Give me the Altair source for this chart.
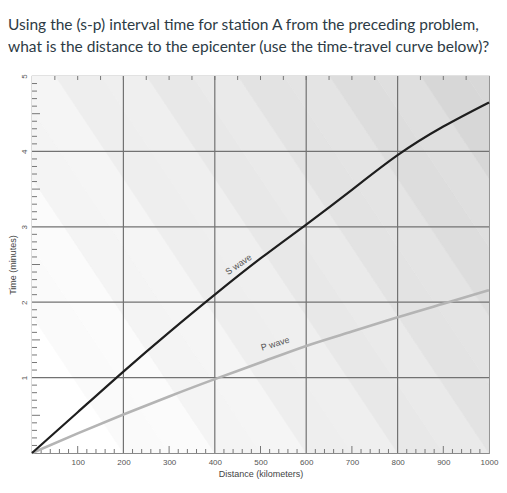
import altair as alt
import pandas as pd

# ---------------- data ----------------
title_lines = [
    "Using the (s-p) interval time for station A from the preceding problem,",
    "what is the distance to the epicenter (use the time-travel curve below)?",
]
distance_km = [0, 100, 200, 300, 400, 500, 600, 700, 800, 900, 1000]
s_wave_min = [0, 0.54, 1.08, 1.60, 2.10, 2.58, 3.03, 3.49, 3.95, 4.33, 4.65]
p_wave_min = [0, 0.26, 0.51, 0.75, 0.98, 1.20, 1.42, 1.61, 1.80, 1.98, 2.16]

x_labels = [100, 200, 300, 400, 500, 600, 700, 800, 900, 1000]
y_labels = [1, 2, 3, 4, 5]
grid_km = [200, 400, 600, 800]
grid_min = [1, 2, 3, 4]
bottom_minor_km = [k for k in range(20, 1000, 20) if k % 100 != 0]
bottom_major_km = [100, 300, 500, 700, 900]
top_ticks_km = list(range(50, 1000, 50))
left_minor_min = [i / 10 for i in range(1, 50) if i % 5 != 0]
left_major_min = [0.5, 1.5, 2.5, 3.5, 4.5]

curve_labels = ["S wave", "P wave"]
curve_label_km = [452, 532]
curve_label_min = [2.5, 1.45]

# decorative diagonal shading of the scanned figure
band_edges = [i * 0.911 for i in range(17)]
band_shades = ["#ffffff", "#ffffff", "#fafafa", "#fbfbfb", "#f4f4f4", "#f5f5f5",
               "#eeeeee", "#efefef", "#e8e8e8", "#eaeaea", "#e3e3e3", "#e4e4e4",
               "#dddddd", "#dfdfdf", "#d7d7d7", "#d8d8d8"]
band_slope = 0.00911  # minutes per km along a band edge

W, H = 457, 377
XS = alt.Scale(domain=[0, 1000], nice=False, zero=False)
YS = alt.Scale(domain=[0, 5], nice=False, zero=False)

x_axis = alt.Axis(values=x_labels, format="d", ticks=False, domain=False, grid=False,
                  labelFlush=False, labelFontSize=8, labelColor="#555555", labelPadding=5,
                  title="Distance (kilometers)", titleFontSize=9,
                  titleFontWeight="normal", titleColor="#444444", titlePadding=3)
y_axis = alt.Axis(values=y_labels, format="d", ticks=False, domain=False, grid=False,
                  labelFlush=False, labelFontSize=8, labelColor="#555555", labelAngle=270,
                  labelAlign="center", labelBaseline="bottom", labelPadding=4,
                  title="Time (minutes)", titleFontSize=9,
                  titleFontWeight="normal", titleColor="#444444", titlePadding=3)

X = alt.X("km:Q", scale=XS, axis=x_axis)
Y = alt.Y("min:Q", scale=YS, axis=y_axis)

# ---------------- tables ----------------
band_rows = []
for k, shade in enumerate(band_shades):
    for xk in (0, 1000):
        band_rows.append({"band": k, "shade": shade, "km": xk,
                          "min": band_edges[k] - band_slope * xk,
                          "min2": band_edges[k + 1] - band_slope * xk})
bands_df = pd.DataFrame(band_rows)

curves_df = pd.DataFrame({
    "km": distance_km * 2,
    "min": s_wave_min + p_wave_min,
    "wave": ["S"] * len(distance_km) + ["P"] * len(distance_km),
})
labels_df = pd.DataFrame({"label": curve_labels, "km": curve_label_km,
                          "min": curve_label_min})

bands = alt.Chart(bands_df).mark_area(clip=True, strokeWidth=0.6).encode(
    x=X, y=Y, y2="min2:Q",
    fill=alt.Fill("shade:N", scale=None),
    stroke=alt.Stroke("shade:N", scale=None),
    detail="band:N",
)

grid_v = alt.Chart(pd.DataFrame({"km": grid_km})).mark_rule(
    color="#727272", strokeWidth=1.2).encode(x=X, y=alt.value(0), y2=alt.value(H))
grid_h = alt.Chart(pd.DataFrame({"min": grid_min})).mark_rule(
    color="#727272", strokeWidth=1.2).encode(y=Y, x=alt.value(0), x2=alt.value(W))

tick_style = dict(color="#777777", strokeWidth=1)
t_bmin = alt.Chart(pd.DataFrame({"km": bottom_minor_km})).mark_rule(**tick_style).encode(
    x=X, y=alt.value(H), y2=alt.value(H - 4))
t_bmaj = alt.Chart(pd.DataFrame({"km": bottom_major_km})).mark_rule(**tick_style).encode(
    x=X, y=alt.value(H), y2=alt.value(H - 7))
t_top = alt.Chart(pd.DataFrame({"km": top_ticks_km})).mark_rule(**tick_style).encode(
    x=X, y=alt.value(0), y2=alt.value(4))
t_lmin = alt.Chart(pd.DataFrame({"min": left_minor_min})).mark_rule(**tick_style).encode(
    y=Y, x=alt.value(0), x2=alt.value(5))
t_lmaj = alt.Chart(pd.DataFrame({"min": left_major_min})).mark_rule(**tick_style).encode(
    y=Y, x=alt.value(0), x2=alt.value(8))

p_line = alt.Chart(curves_df).transform_filter(alt.datum.wave == "P").mark_line(
    color="#b4b4b4", strokeWidth=2.6, interpolate="natural").encode(x=X, y=Y)
s_line = alt.Chart(curves_df).transform_filter(alt.datum.wave == "S").mark_line(
    color="#1e1e1e", strokeWidth=2.2, interpolate="natural").encode(x=X, y=Y)

s_text = alt.Chart(labels_df).transform_filter(alt.datum.label == "S wave").mark_text(
    font="Liberation Sans", fontSize=9, color="#555555", angle=326).encode(
    x=X, y=Y, text="label:N")
p_text = alt.Chart(labels_df).transform_filter(alt.datum.label == "P wave").mark_text(
    font="Liberation Sans", fontSize=9, color="#555555", angle=343).encode(
    x=X, y=Y, text="label:N")

chart = alt.layer(
    bands, grid_v, grid_h, t_bmin, t_bmaj, t_top, t_lmin, t_lmaj,
    p_line, s_line, s_text, p_text,
).properties(
    width=W, height=H,
    title=alt.TitleParams(
        text=title_lines, anchor="start", frame="group", dx=-24,
        font="Lato", fontSize=15.5, fontWeight="normal", color="#2d3b45",
        lineHeight=22, offset=18,
    ),
    autosize=alt.AutoSizeParams(type="none"),
    padding={"left": 24, "top": 68, "right": 10, "bottom": 32},
).configure_view(
    stroke="#8a8a8a", strokeWidth=1.2
).configure_axis(
    labelFont="Liberation Sans", titleFont="Liberation Sans"
)

chart.save("out.html", embed_options={"renderer": "svg", "actions": False})
